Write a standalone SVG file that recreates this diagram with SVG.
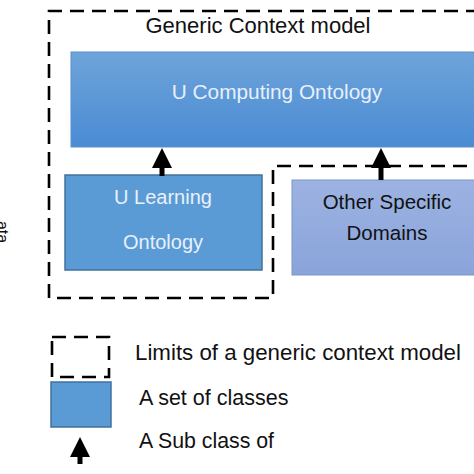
<svg xmlns="http://www.w3.org/2000/svg" width="474" height="474" viewBox="0 0 474 474">
<defs>
<linearGradient id="gTop" x1="0" y1="0" x2="0" y2="1">
<stop offset="0" stop-color="#6ea4da"/>
<stop offset="1" stop-color="#4a8bd3"/>
</linearGradient>
<linearGradient id="gOther" x1="0" y1="0" x2="0" y2="1">
<stop offset="0" stop-color="#9cb2e2"/>
<stop offset="1" stop-color="#8aa4da"/>
</linearGradient>
<marker id="ah" markerWidth="4" markerHeight="4" refX="2" refY="2" orient="auto" markerUnits="strokeWidth">
<path d="M0,0 L4,2 L0,4 z" fill="#000"/>
</marker>
<style>
.dash{fill:none;stroke:#000;stroke-width:2.6;stroke-dasharray:14 8}
.t{font-family:"Liberation Sans",Arial,sans-serif;fill:#111}
.w{fill:#e8f0fb}
.arr{stroke:#000;stroke-width:5;fill:none;marker-end:url(#ah)}
</style>
</defs>
<rect width="474" height="474" fill="#fff"/>
<text class="t" transform="translate(-3,232) rotate(90)" text-anchor="middle" font-size="16">ata</text>
<g id="generic-context">
<path class="dash" d="M480,11 L49,11 L49,298 L273,298 L273,166 L480,166"/>
<text class="t" x="258" y="33" text-anchor="middle" font-size="22">Generic Context model</text>
</g>
<g id="u-computing">
<rect x="71" y="52" width="410" height="95" fill="url(#gTop)" stroke="#5a8fc8" stroke-width="1"/>
<text class="t w" x="277" y="99" text-anchor="middle" font-size="20.8">U Computing Ontology</text>
</g>
<g id="u-learning">
<rect x="65" y="175" width="197" height="95" fill="#5b9bd5" stroke="#41719c" stroke-width="1.5"/>
<text class="t w" x="163" y="204" text-anchor="middle" font-size="20">U Learning</text>
<text class="t w" x="163" y="249" text-anchor="middle" font-size="20">Ontology</text>
</g>
<g id="other-domains">
<rect x="292" y="180" width="190" height="95" fill="url(#gOther)" stroke="#7f93c6" stroke-width="1"/>
<text class="t" x="387" y="209" text-anchor="middle" font-size="20.5" fill="#1c2a44">Other Specific</text>
<text class="t" x="387" y="240" text-anchor="middle" font-size="20.5" fill="#1c2a44">Domains</text>
</g>
<g id="connectors">
<line class="arr" x1="162" y1="176" x2="162" y2="158"/>
<line class="arr" x1="381" y1="180" x2="381" y2="158"/>
</g>
<g id="legend">
<rect class="dash" x="52" y="337" width="57" height="40"/>
<text class="t" x="135" y="360" font-size="22.3">Limits of a generic context model</text>
<rect x="51" y="382" width="60" height="45" fill="#5b9bd5" stroke="#41719c" stroke-width="1.5"/>
<text class="t" x="139" y="405" font-size="21.5">A set of classes</text>
<line class="arr" x1="80" y1="464" x2="80" y2="447"/>
<text class="t" x="139" y="448" font-size="21.3">A Sub class of</text>
</g>
</svg>
